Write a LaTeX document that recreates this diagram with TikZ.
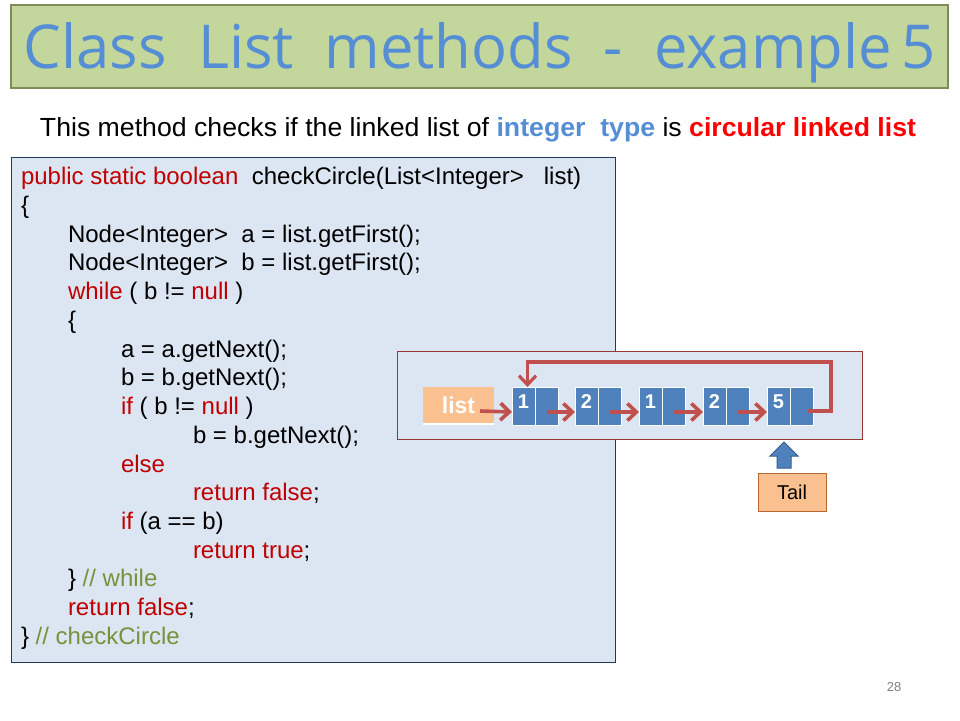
\documentclass[tikz,border=0pt]{standalone}
\usepackage{fontspec}
\usepackage{graphicx}
\setmainfont{Liberation Sans}
\newfontfamily\titlefont{Open Sans}
\usetikzlibrary{arrows.meta}
\definecolor{titlegreen}{HTML}{C3D69B}
\definecolor{titleborder}{HTML}{7F8C5A}
\definecolor{titleblue}{HTML}{558ED5}
\definecolor{subred}{HTML}{FF0000}
\definecolor{codefill}{HTML}{DCE6F2}
\definecolor{codeborder}{HTML}{1F3A5F}
\definecolor{kwred}{HTML}{C00000}
\definecolor{cmtgreen}{HTML}{76923C}
\definecolor{diagborder}{HTML}{953735}
\definecolor{listorange}{HTML}{FAC090}
\definecolor{nodeblue}{HTML}{4F81BD}
\definecolor{nodeblueborder}{HTML}{385D8A}
\definecolor{arrowred}{HTML}{C0504D}
\definecolor{tailborder}{HTML}{B8672E}
\newcommand{\KW}[1]{\textcolor{kwred}{#1}}
\newcommand{\CM}[1]{\textcolor{cmtgreen}{#1}}
\begin{document}
\begin{tikzpicture}[x=1pt,y=-1pt,
  every node/.style={inner sep=0pt, outer sep=0pt},
  codeline/.style={anchor=base west, font=\fontsize{24}{28}\selectfont},
  cell/.style={fill=nodeblue, draw=white, line width=1pt, minimum width=23pt, minimum height=38pt, anchor=north west},
  numtext/.style={text=white, font=\bfseries\fontsize{20}{20}\selectfont},
  link/.style={draw=arrowred, line width=3.6pt, -{Straight Barb[length=9pt,width=17pt]}}
]
\useasboundingbox (0,0) rectangle (960,720);
\fill[white] (0,0) rectangle (960,720);

% title
\node[draw=titleborder, fill=titlegreen, line width=1.2pt, minimum width=937pt, minimum height=83pt, anchor=north west] (titlebox) at (11,5) {};
\node[anchor=base, text=titleblue] (title) at (480,68) {\resizebox{912pt}{46pt}{\titlefont Class\ \ List\ \ methods\ \ -\ \ example\,5}};

% subtitle
\node[anchor=base] (sub) at (478,136) {\resizebox{876pt}{19pt}{This method checks if the linked list of \textbf{\textcolor{titleblue}{integer\ \ type}} is \textbf{\textcolor{subred}{circular linked list}}}};

% code box
\node[draw=codeborder, fill=codefill, line width=1pt, minimum width=604pt, minimum height=505pt, anchor=north west] (codebox) at (11,157) {};
\node[codeline] (c1) at (21,184) {\KW{public static boolean}\ \ checkCircle(List<Integer>\ \ \ list)};
\node[codeline] (c2) at (21,213) {\{};
\node[codeline] (c3) at (68,242) {Node<Integer>\ \ a = list.getFirst();};
\node[codeline] (c4) at (68,270) {Node<Integer>\ \ b = list.getFirst();};
\node[codeline] (c5) at (68,299) {\KW{while} ( b != \KW{null} )};
\node[codeline] (c6) at (68,328) {\{};
\node[codeline] (c7) at (121,357) {a = a.getNext();};
\node[codeline] (c8) at (121,385) {b = b.getNext();};
\node[codeline] (c9) at (121,414) {\KW{if} ( b != \KW{null} )};
\node[codeline] (c10) at (193,443) {b = b.getNext();};
\node[codeline] (c11) at (121,472) {\KW{else}};
\node[codeline] (c12) at (193,500) {\KW{return false};};
\node[codeline] (c13) at (121,529) {\KW{if} (a == b)};
\node[codeline] (c14) at (193,558) {\KW{return true};};
\node[codeline] (c15) at (68,586) {\} \CM{// while}};
\node[codeline] (c16) at (68,615) {\KW{return false};};
\node[codeline] (c17) at (21,644) {\} \CM{// checkCircle}};

% diagram box
\node[draw=diagborder, fill=codefill, line width=1pt, minimum width=465pt, minimum height=88pt, anchor=north west] (diag) at (397,351) {};

\node[fill=listorange, minimum width=71pt, minimum height=36pt, anchor=north west, text=white, font=\bfseries\fontsize{23}{23}\selectfont] (listbox) at (423,387) {list};
\draw[white, line width=2pt] ([yshift=-1pt]listbox.south west) -- ([yshift=-1pt]listbox.south east);

\foreach \i/\x/\v in {1/512/1, 2/575/2, 3/639/1, 4/703/2, 5/767/5} {
  \node[cell] (a\i) at (\x,387) {};
  \node[cell] (b\i) at (\x+23,387) {};
  \node[numtext] (v\i) at ([yshift=-15pt]a\i.north) {\v};
}

\draw[link] ([xshift=-14pt,yshift=-6pt]listbox.east) -- ([yshift=-6pt]a1.west);
\foreach \i/\j in {1/2, 2/3, 3/4, 4/5} {
  \draw[link] ([yshift=-6pt]b\i.center) -- ([yshift=-6pt]a\j.west);
}
\coordinate (loopR) at (831,362);
\draw[link, line width=3.2pt] ([xshift=6pt,yshift=-5pt]b5.center) -| (loopR) -| ([xshift=4pt]a1.north);

% tail pointer
\node[draw=tailborder, fill=listorange, line width=1pt, minimum width=68pt, minimum height=38pt, anchor=north west, font=\fontsize{20}{20}\selectfont] (tail) at (758,473) {Tail};
\fill[nodeblue, draw=nodeblueborder, line width=1pt] (784,442) -- (798,456) -- (791,456) -- (791,468) -- (777,468) -- (777,456) -- (770,456) -- cycle;

% page number
\node[text=gray, font=\fontsize{13}{13}\selectfont] (pg) at (894,687) {28};
\end{tikzpicture}
\end{document}
